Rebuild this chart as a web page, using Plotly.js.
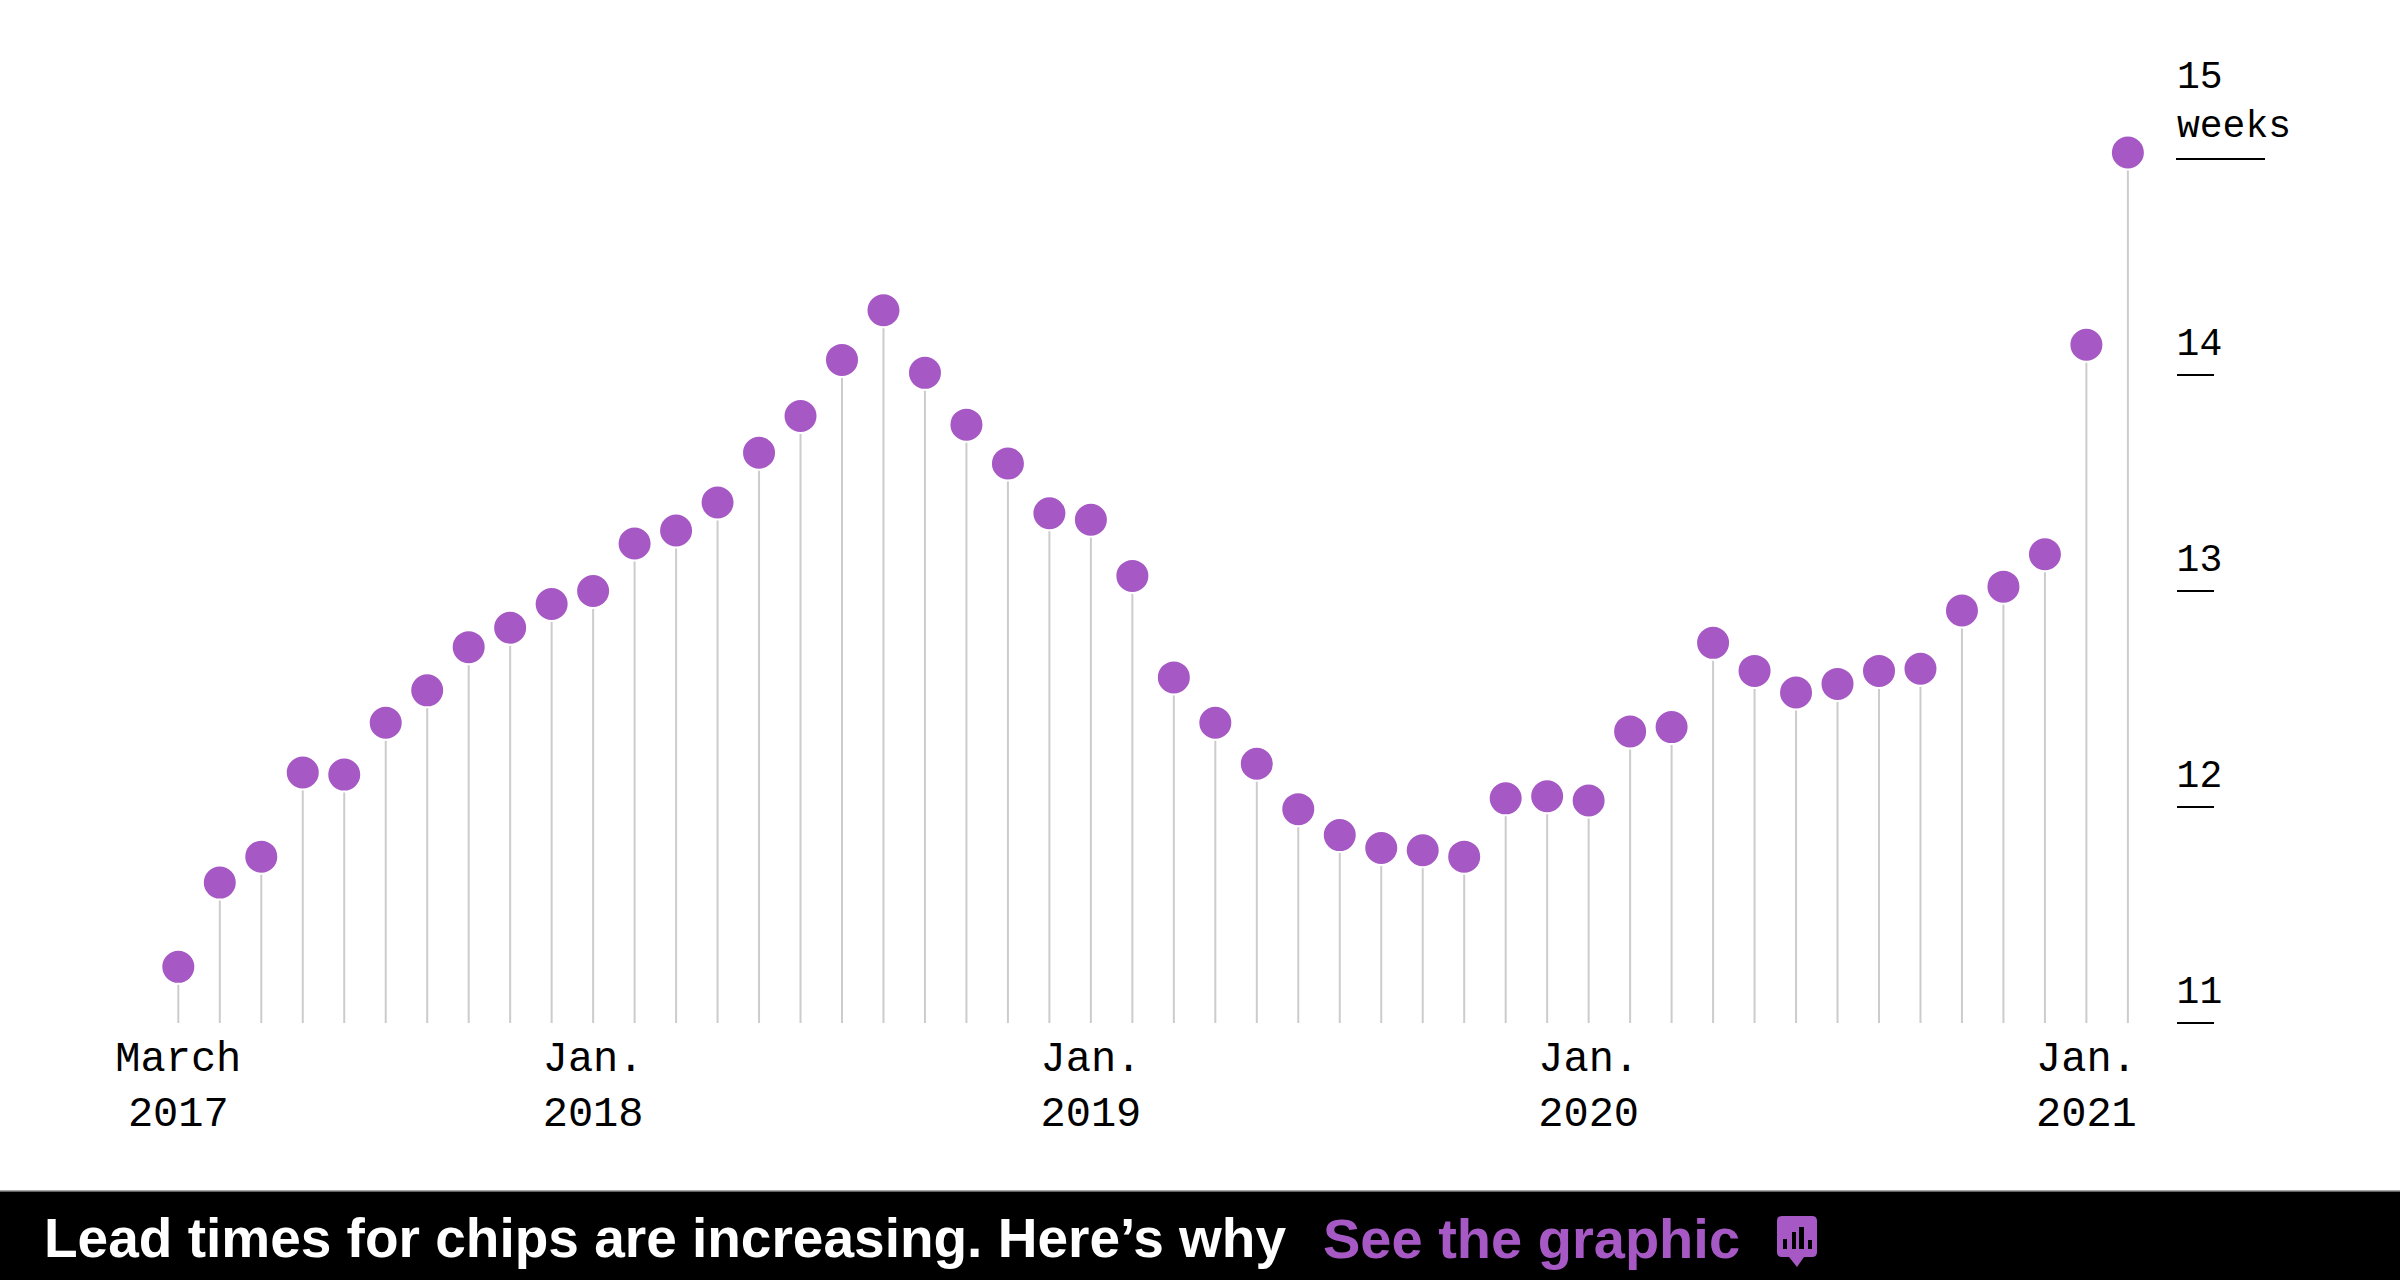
<!DOCTYPE html>
<html><head><meta charset="utf-8">
<script src="https://cdn.plot.ly/plotly-3.0.0.min.js"></script>
<style>html,body{margin:0;padding:0;background:#fff}</style></head>
<body><div id="chart" style="width:2400px;height:1280px"></div>
<script>
const months = ["2017-03","2017-04","2017-05","2017-06","2017-07","2017-08","2017-09","2017-10","2017-11","2017-12",
"2018-01","2018-02","2018-03","2018-04","2018-05","2018-06","2018-07","2018-08","2018-09","2018-10","2018-11","2018-12",
"2019-01","2019-02","2019-03","2019-04","2019-05","2019-06","2019-07","2019-08","2019-09","2019-10","2019-11","2019-12",
"2020-01","2020-02","2020-03","2020-04","2020-05","2020-06","2020-07","2020-08","2020-09","2020-10","2020-11","2020-12",
"2021-01","2021-02"];
const leadWeeks = [11.26,11.65,11.77,12.16,12.15,12.39,12.54,12.74,12.83,12.94,13.00,13.22,13.28,13.41,13.64,13.81,14.07,14.30,14.01,13.77,13.59,13.36,13.33,13.07,12.60,12.39,12.20,11.99,11.87,11.81,11.80,11.77,12.04,12.05,12.03,12.35,12.37,12.76,12.63,12.53,12.57,12.63,12.64,12.91,13.02,13.17,14.14,15.03];
const xTickVals = ["2017-03","2018-01","2019-01","2020-01","2021-01"];
const xTickText = ["March<br>2017","Jan.<br>2018","Jan.<br>2019","Jan.<br>2020","Jan.<br>2021"];
const yTickVals = [11,12,13,14,15];
const yTickText = ["11","12","13","14",""];
const topLabel = "15<br>weeks";
const headline = "Lead times for chips are increasing. Here’s why";
const cta = "See the graphic";

const PURPLE = "#a659c4";
const W = 2400, H = 1280, L = 100, R = 224, T = 0, B = 235, BASE_PX = 1023, UNIT = 216;
const PW = W - L - R, PH = H - T - B;
const px = x => (x - L) / PW;
const py = y => (H - B - y) / PH;
const baseline = 11;

const P = (x, y) => `${px(x)},${py(y)}`;
const iconPath = (x0, y0, x1, y1, r) =>
  `M${P(x0+r,y0)}L${P(x1-r,y0)}Q${P(x1,y0)} ${P(x1,y0+r)}L${P(x1,y1-r)}Q${P(x1,y1)} ${P(x1-r,y1)}` +
  `L${P(1804,y1)}L${P(1797,1267)}L${P(1789,y1)}L${P(x0+r,y1)}Q${P(x0,y1)} ${P(x0,y1-r)}L${P(x0,y0+r)}Q${P(x0,y0)} ${P(x0+r,y0)}Z`;

const iconBars = [[1783,1239,1787,1249],[1792,1232,1796,1249],[1799,1227,1804,1249],[1808,1240,1812,1249]];

const shapes = [
  {type:"rect",xref:"paper",yref:"paper",x0:px(0),x1:px(W),y0:py(1191),y1:py(H),fillcolor:"#000",line:{width:0},layer:"below"},
  {type:"line",xref:"paper",yref:"paper",x0:px(0),x1:px(W),y0:py(1191),y1:py(1191),line:{color:"#888",width:1.5},layer:"below"},
  {type:"line",xref:"paper",yref:"y",x0:px(2176),x1:px(2265),y0:15,y1:15,line:{color:"#000",width:2}},
  {type:"path",xref:"paper",yref:"paper",fillcolor:PURPLE,line:{width:0},path:iconPath(1777,1216,1817,1257,5)},
  ...iconBars.map(b=>({type:"rect",xref:"paper",yref:"paper",x0:px(b[0]),x1:px(b[2]),y0:py(b[1]),y1:py(b[3]),fillcolor:"#000",line:{width:0}}))
];

const trace = {
  type:"scatter", mode:"markers", x:months, y:leadWeeks,
  marker:{size:34,color:PURPLE,line:{color:"#fff",width:2}},
  error_y:{type:"data",symmetric:false,array:leadWeeks.map(()=>0),arrayminus:leadWeeks.map(v=>v-baseline),color:"#cccccc",thickness:2,width:0},
  cliponaxis:false, hoverinfo:"skip"
};

const layout = {
  width:W,height:H,margin:{l:L,r:R,t:T,b:B,pad:0},autosize:false,showlegend:false,
  paper_bgcolor:"#fff",plot_bgcolor:"rgba(0,0,0,0)",
  font:{family:"Liberation Mono, monospace",color:"#000"},
  xaxis:{type:"category",categoryorder:"array",categoryarray:months,range:[-1.888,48.16],
    tickmode:"array",tickvals:xTickVals,ticktext:xTickText,ticks:"",showgrid:false,zeroline:false,showline:false,
    ticklabelstandoff:-17,
    tickfont:{family:"Liberation Mono, monospace",size:42,color:"#000"},tickangle:0,automargin:false},
  yaxis:{range:[11-(H-B-BASE_PX)/UNIT,11+BASE_PX/UNIT],side:"right",
    tickmode:"array",tickvals:yTickVals,ticktext:yTickText,ticks:"outside",ticklen:37,tickwidth:2,tickcolor:"#000",
    ticklabelposition:"outside top",ticklabelstandoff:-8,ticklabelshift:-6,showgrid:false,zeroline:false,showline:false,
    tickfont:{family:"Liberation Mono, monospace",size:38,color:"#000"},automargin:false},
  shapes,
  annotations:[
    {xref:"paper",yref:"y",x:px(2176),y:15,yshift:10,xanchor:"left",yanchor:"bottom",align:"left",showarrow:false,text:topLabel,borderpad:0,
     font:{family:"Liberation Mono, monospace",size:38,color:"#000"}},
    {xref:"paper",yref:"paper",x:px(42),y:py(1238),xanchor:"left",yanchor:"middle",showarrow:false,text:headline,
     font:{family:"Liberation Sans, Arial, sans-serif",size:55,color:"#fff",weight:700}},
    {xref:"paper",yref:"paper",x:px(1321),y:py(1238),xanchor:"left",yanchor:"middle",showarrow:false,text:cta,
     font:{family:"Liberation Sans, Arial, sans-serif",size:56,color:PURPLE,weight:700}}
  ]
};
Plotly.newPlot("chart",[trace],layout,{displayModeBar:false,staticPlot:true});
</script></body></html>
